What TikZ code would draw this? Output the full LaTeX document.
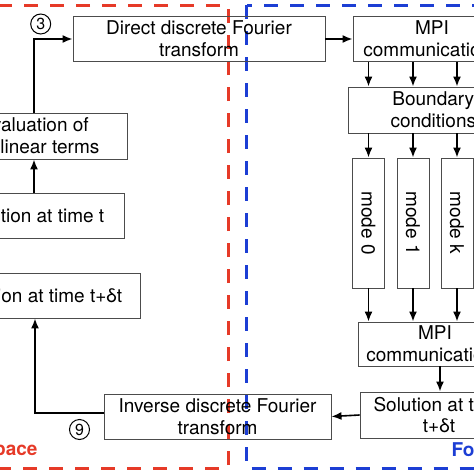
\documentclass[tikz,border=0pt]{standalone}
\usepackage{fontspec}
\setmainfont{TeX Gyre Heros}
\usetikzlibrary{arrows.meta}
\definecolor{physred}{RGB}{230,58,40}
\definecolor{fourblue}{RGB}{28,62,212}
\begin{document}
\begin{tikzpicture}[x=1pt,y=-1pt,
  box/.style={draw=black!70,line width=0.9pt,align=center,inner sep=0pt,
    font=\fontsize{19}{21.7}\selectfont},
  flow/.style={line width=1.6pt,-{Latex[length=10pt,width=8pt]}},
  frame/.style={line width=3pt,dash pattern=on 14pt off 12pt},
  stepno/.style={draw,circle,line width=1pt,minimum size=20pt,inner sep=0pt,
    font=\fontsize{16}{16}\selectfont}]
  \useasboundingbox (0,0) rectangle (474,474);
  \clip (0,0) rectangle (474,474);
  % the two spaces
  \draw[frame,physred] (-60,5) rectangle (228,468);
  \draw[frame,fourblue] (246.5,5) rectangle (540,468);
  \node[anchor=base east,text=physred,font=\fontsize{19}{21}\selectfont\bfseries] (physlabel) at (41,455) {Physical space};
  \node[anchor=base west,text=fourblue,font=\fontsize{19}{21}\selectfont\bfseries] (fourlabel) at (448,456) {Fourier space};
  % physical space
  \node[box,minimum width=252pt,minimum height=45pt] (dft) at (199,39) {Direct discrete Fourier\\transform};
  \node[box,minimum width=186pt,minimum height=46pt] (eval) at (34,136) {Evaluation of\\nonlinear terms};
  \node[box,minimum width=181pt,minimum height=45pt] (solt) at (33.5,215.5) {Solution at time t};
  \node[box,minimum width=204pt,minimum height=45pt] (soltdt) at (38,295.5) {Solution at time t+δt};
  \node[box,minimum width=227pt,minimum height=45pt] (idft) at (217.5,416.5) {Inverse discrete Fourier\\transform};
  \node[stepno] (three) at (40.7,24) {3};
  \node[stepno] (nine) at (79.5,429.5) {9};
  % fourier space
  \node[box,minimum width=158pt,minimum height=45pt] (mpia) at (432,39) {MPI\\communications};
  \node[box,minimum width=169pt,minimum height=46pt] (bc) at (433.3,110) {Boundary\\conditions};
  \node[box,rotate=-90,minimum width=130pt,minimum height=32pt] (mode0) at (368.5,223) {mode 0};
  \node[box,rotate=-90,minimum width=130pt,minimum height=32pt] (mode1) at (413,223) {mode 1};
  \node[box,rotate=-90,minimum width=130pt,minimum height=32pt] (modek) at (457,223) {mode k};
  \node[box,minimum width=154pt,minimum height=44pt] (mpib) at (435,344) {MPI\\communications};
  \node[box,minimum width=158pt,minimum height=46pt] (sol) at (439,415) {Solution at time\\t+δt};
  % connectors
  \draw[flow] (solt.north -| 34,0) -- (eval.south -| 34,0);
  \draw[flow] (eval.north -| 34,0) |- (dft.west);
  \draw[flow] (dft.east) -- (mpia.west);
  \foreach \m in {mode0,mode1,modek}{
    \draw[flow] (mpia.south -| \m.center) -- (bc.north -| \m.center);
    \draw[flow] (bc.south -| \m.center) -- (\m.west);
    \draw[flow] (\m.east) -- (mpib.north -| \m.center);
  }
  \draw[flow] (mpib.south -| 440,0) -- (sol.north -| 440,0);
  \draw[flow] (sol.west) -- (idft.east);
  \draw[flow] (idft.west |- 0,413) -| (soltdt.south -| 35,0);
\end{tikzpicture}
\end{document}
